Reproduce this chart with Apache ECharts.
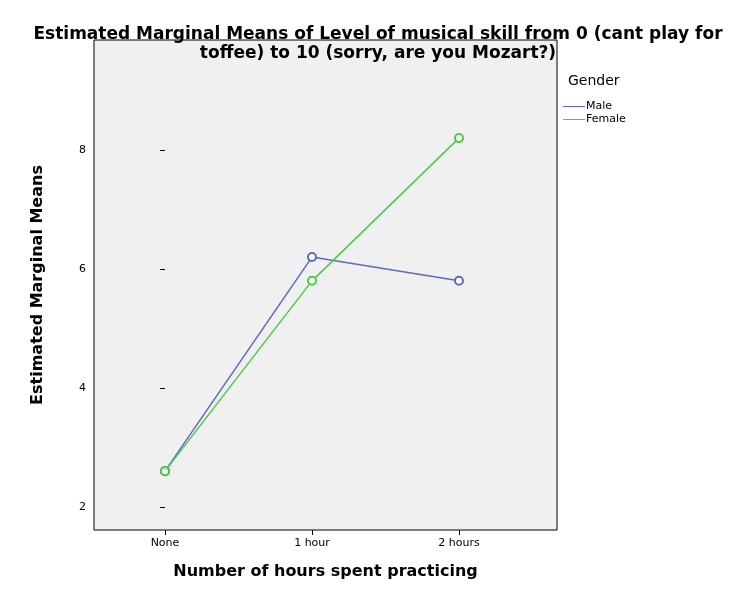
<!DOCTYPE html>
<html><head><meta charset="utf-8">
<script src="https://cdn.jsdelivr.net/npm/echarts@6/dist/echarts.min.js"></script>
<style>html,body{margin:0;padding:0;background:#fff}#c{width:734px;height:595px}</style>
</head><body><div id="c"></div>
<script>
const categories = ['None', '1 hour', '2 hours'];
const male = [2.6, 6.2, 5.8];
const female = [2.6, 5.8, 8.2];
const yTicks = [2, 4, 6, 8];

const chart = echarts.init(document.getElementById('c'));
const font = 'DejaVu Sans';
chart.setOption({
  animation: false,
  textStyle: { fontFamily: font },
  title: {
    text: 'Estimated Marginal Means of Level of musical skill from 0 (cant play for\ntoffee) to 10 (sorry, are you Mozart?)',
    left: 373, top: 20, textAlign: 'center',
    textStyle: { fontSize: 17, fontWeight: 'bold', color: '#000', lineHeight: 19, fontFamily: font }
  },
  grid: { left: 94, right: 177, top: 40, bottom: 65, show: true, backgroundColor: '#f0f0f0', borderColor: '#000', borderWidth: 1 },
  graphic: [{ type: 'text', left: 568, top: 74, style: { text: 'Gender', fontSize: 14, fill: '#000', fontFamily: font } }],
  legend: {
    orient: 'vertical', left: 558, top: 96, itemGap: 2, itemWidth: 22, itemHeight: 10,
    icon: 'path://M0,4.5L22,4.5L22,5.5L0,5.5Z',
    textStyle: { fontSize: 11, color: '#000', padding: [0, 0, 0, -4] },
    data: ['Male', 'Female']
  },
  xAxis: {
    type: 'value', min: -0.483, max: 2.667,
    name: 'Number of hours spent practicing', nameLocation: 'middle', nameGap: 34,
    nameTextStyle: { fontSize: 16, fontWeight: 'bold', color: '#000' },
    splitLine: { show: false },
    axisLine: { show: false },
    axisTick: { show: true, customValues: [0, 1, 2], lineStyle: { color: '#000' }, length: 5 },
    axisLabel: { customValues: [0, 1, 2], formatter: v => categories[Math.round(v)], fontSize: 11, color: '#000' }
  },
  yAxis: {
    type: 'value', min: 1.61, max: 9.85,
    name: 'Estimated Marginal Means', nameLocation: 'middle', nameGap: 48,
    nameTextStyle: { fontSize: 16, fontWeight: 'bold', color: '#000' },
    splitLine: { show: false },
    axisLine: { show: false },
    axisTick: { show: true, customValues: yTicks, lineStyle: { color: '#000' }, length: 5 },
    axisLabel: { customValues: yTicks, fontSize: 11, color: '#000' }
  },
  series: [
    { name: 'Male', type: 'line', data: male.map((v, i) => [i, v]), color: '#5b6bbf',
      symbol: 'emptyCircle', symbolSize: 8, lineStyle: { width: 1.5 } },
    { name: 'Female', type: 'line', data: female.map((v, i) => [i, v]), color: '#4cc84c',
      symbol: 'emptyCircle', symbolSize: 8, lineStyle: { width: 1.5 } }
  ]
});
</script></body></html>
